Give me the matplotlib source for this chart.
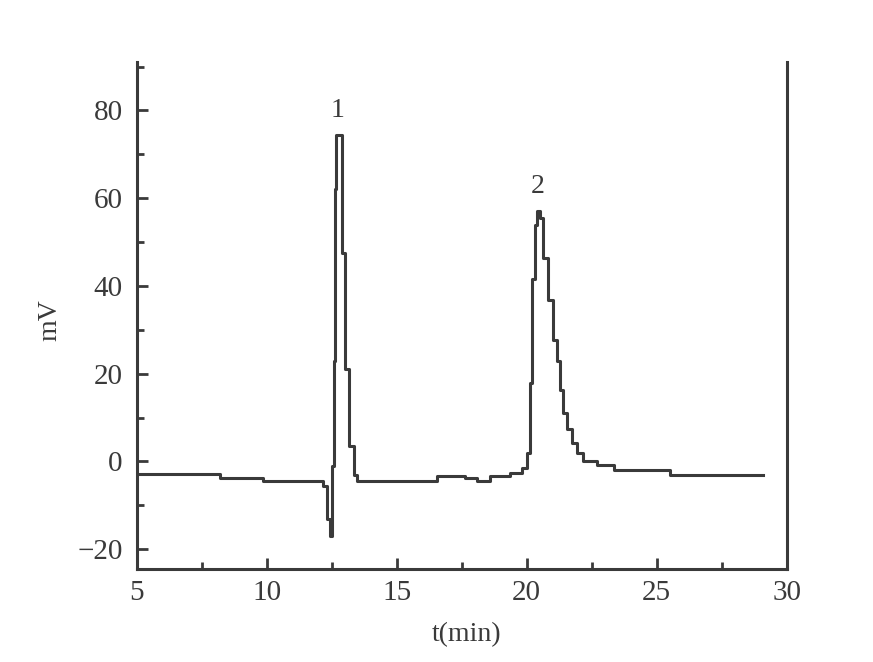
import matplotlib
matplotlib.use("Agg")
import matplotlib.pyplot as plt
from matplotlib.ticker import MultipleLocator

plt.rcParams["font.family"] = ["Liberation Serif", "DejaVu Serif"]

# chromatogram trace (steps held until next time point)
time_min = [5.0, 8.2, 9.87, 12.17, 12.31, 12.43, 12.52, 12.58, 12.62, 12.68,
            12.88, 13.01, 13.16, 13.35, 13.48, 16.54, 17.63, 18.08, 18.59,
            19.36, 19.80, 20.00, 20.13, 20.19, 20.32, 20.40, 20.50, 20.64,
            20.83, 21.00, 21.15, 21.28, 21.41, 21.56, 21.73, 21.92, 22.15,
            22.69, 23.35, 25.51, 29.1]
signal_mv = [-2.9, -3.8, -4.5, -5.5, -13.0, -17.0, -1.0, 23.0, 62.0, 74.5,
             47.5, 21.0, 3.5, -3.0, -4.5, -3.3, -3.8, -4.4, -3.3,
             -2.6, -1.5, 2.0, 18.0, 41.7, 54.0, 57.0, 55.5, 46.3,
             36.8, 27.7, 22.8, 16.4, 11.0, 7.3, 4.3, 2.0, 0.2,
             -0.9, -2.0, -3.0, -3.0]

peak_names = ["1", "2"]
peak_t = [12.74, 20.43]
peak_label_y = [80.0, 62.7]

INK = "#3a3a3a"

fig = plt.figure(figsize=(8.73, 6.62), dpi=100)
ax = fig.add_axes([0.1566, 0.1405, 0.7446, 0.7655])

ax.step(time_min, signal_mv, where="post", color=INK, lw=2.2)

for name, tx, ty in zip(peak_names, peak_t, peak_label_y):
    ax.text(tx, ty, name, ha="center", va="center", fontsize=20, color=INK)

ax.set_xlim(5, 30)
ax.set_ylim(-24.5, 91)
ax.xaxis.set_major_locator(MultipleLocator(5))
ax.xaxis.set_minor_locator(MultipleLocator(2.5))
ax.yaxis.set_major_locator(MultipleLocator(20))
ax.yaxis.set_minor_locator(MultipleLocator(10))

ax.tick_params(which="both", direction="in", top=False, right=False,
               color=INK, width=2.0, labelcolor=INK, labelsize=21)
ax.tick_params(which="major", length=8)
ax.tick_params(which="minor", length=5)
ax.tick_params(axis="x", which="major", pad=8)
ax.tick_params(axis="y", which="major", pad=10)

ax.spines["top"].set_visible(False)
for side in ("left", "right", "bottom"):
    ax.spines[side].set_color(INK)
    ax.spines[side].set_linewidth(2.2)

ax.set_xlabel("t(min)", fontsize=20, color=INK)
ax.set_ylabel("mV", fontsize=20, color=INK)
ax.xaxis.set_label_coords(0.508, -0.105)
ax.yaxis.set_label_coords(-0.115, 0.491)

fig.savefig("out.png", dpi=100, facecolor="white")
